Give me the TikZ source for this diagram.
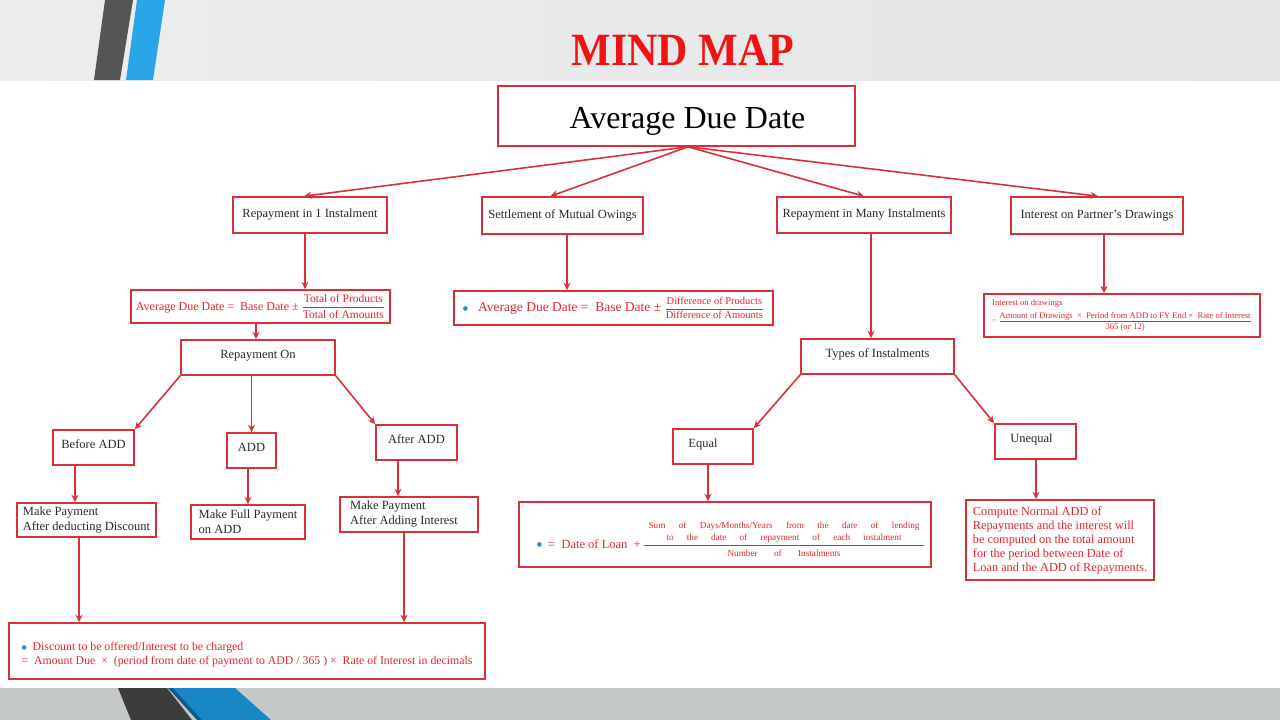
\documentclass[tikz,border=0pt]{standalone}
\usepackage{fontspec}
\setmainfont{Liberation Serif}
\newfontfamily\dejavu{DejaVu Sans}
\usepackage{amsmath}
\usetikzlibrary{arrows.meta,calc}
\definecolor{mred}{HTML}{E0262E}
\definecolor{bred}{HTML}{D9303A}
\definecolor{tred}{HTML}{EE1414}
\definecolor{dotblue}{HTML}{2C8FC0}
\definecolor{ink}{HTML}{2A2A2A}
\definecolor{topgray}{HTML}{E4E5E6}
\definecolor{botgray}{HTML}{C4C8C9}
\definecolor{stripdark}{HTML}{555555}
\definecolor{stripblue}{HTML}{2AA6E8}
\definecolor{bstripdark}{HTML}{3C3C3C}
\definecolor{bstripedge}{HTML}{0F5A8C}
\definecolor{bstripblue}{HTML}{1887C4}
\newcommand\fs[1]{\fontsize{#1}{\dimexpr #1pt*6/5\relax}\selectfont}
\newcommand\bdot{{\color{dotblue}\dejavu\fontsize{6}{7}\selectfont\raisebox{1.5pt}{●}}}
\begin{document}
\begin{tikzpicture}[x=1pt,y=-1pt,
  box/.style={draw=bred,line width=1.6pt,inner sep=0pt,align=center,text=ink,font=\fs{12.5}},
  fbox/.style={box,text=mred},
  upper/.style={text height=8.5pt,text depth=7.5pt},
  arr/.style={draw=bred,line width=1.6pt,-{Stealth[length=7.5pt,width=7pt,inset=2.5pt]}}]
\useasboundingbox (0,0) rectangle (1280,720);
% background
\fill[white] (0,0) rectangle (1280,720);
\shade[left color=topgray!70!white,right color=topgray] (0,0) rectangle (1280,80);
\fill[botgray] (0,688) rectangle (1280,720);
\fill[stripdark] (94,80) -- (120,80) -- (133,0) -- (105,0) -- cycle;
\fill[stripblue] (126,80) -- (153,80) -- (165,0) -- (137,0) -- cycle;
\fill[bstripdark] (118,688) -- (167,688) -- (192,720) -- (131,720) -- cycle;
\fill[bstripedge] (168,688) -- (175,688) -- (204,720) -- (197,720) -- cycle;
\fill[bstripblue] (173,688) -- (235,688) -- (271,720) -- (202,720) -- cycle;
% title
\node[text=tred,font=\fs{42}\bfseries] (title) at (683,50) {\scalebox{1}[1.1]{MIND MAP}};
% root
\node[box,minimum width=357pt,minimum height=60pt,font=\fs{32},text=black,text height=32pt,text depth=7pt] (root) at (676.5,116) {\hspace*{22pt}Average Due Date};
\coordinate (rs) at ($(root.south)+(11.5,0)$);
% level 1
\node[box,minimum width=154pt,minimum height=36pt] (l1a) at (310,215) {Repayment in 1 Instalment};
\node[box,minimum width=161pt,minimum height=37pt] (l1b) at (562.5,215.5) {Settlement of Mutual Owings};
\node[box,minimum width=174pt,minimum height=36pt] (l1c) at (864,215) {Repayment in Many Instalments};
\node[box,minimum width=172pt,minimum height=37pt] (l1d) at (1097,215.5) {Interest on Partner’s Drawings};
\draw[arr] (rs) -- ($(l1a.north)+(-6,0)$);
\draw[arr] (rs) -- ($(l1b.north)+(-12,0)$);
\draw[arr] (rs) -- (l1c.north);
\draw[arr] (rs) -- ($(l1d.north)+(1,0)$);
% formula boxes
\node[fbox,minimum width=259pt,minimum height=33pt,font=\fs{12}] (fA) at (260.5,306.5)
  {Average Due Date =\ \ Base Date ± $\dfrac{\text{\fs{11.5}Total of Products}}{\text{\fs{11.5}Total of Amounts}}$};
\node[fbox,minimum width=319pt,minimum height=34pt,font=\fs{13.5}] (fB) at (613.5,308)
  {\bdot\ \ \ Average Due Date =\ \ Base Date ±\ {\fs{10}$\dfrac{\text{\fs{10.5}Difference of Products}}{\text{\fs{10.5}Difference of Amounts}}$}};
\node[fbox,minimum width=276pt,minimum height=43pt,font=\fs{8.6},align=left] (fD) at (1122,315.5)
  {Interest on drawings\\[4pt]
   {\color{mred!60}=}\,{\fs{9}$\dfrac{\text{\fs{8.6}Amount of Drawings\ \ ×\ \ Period from ADD to FY End ×\ \ Rate of Interest}}{\text{\fs{8.6}365 (\textit{or} 12)}}$}};
\coordinate (a1) at ($(l1a.south)+(-5,0)$);
\draw[arr] (a1) -- (a1 |- fA.north);
\coordinate (b1) at ($(l1b.south)+(4.5,0)$);
\draw[arr] (b1) -- (b1 |- fB.north);
\coordinate (d1) at ($(l1d.south)+(7,0)$);
\draw[arr] (d1) -- (d1 |- fD.north);
% repayment on
\node[box,upper,minimum width=154pt,minimum height=35pt] (rOn) at (258,357.5) {Repayment On};
\coordinate (a2) at ($(fA.south)+(-4.5,0)$);
\draw[arr] (a2) -- (a2 |- rOn.north);
\node[box,upper,minimum width=81pt,minimum height=35pt] (before) at (93.5,447.5) {Before ADD};
\node[box,upper,minimum width=49pt,minimum height=35pt] (addn) at (251.5,450.5) {ADD};
\node[box,upper,minimum width=81pt,minimum height=35pt] (after) at (416.5,442.5) {After ADD};
\draw[arr] (rOn.south west) -- (before.north east);
\draw[arr] (addn.north |- rOn.south) -- (addn.north);
\draw[arr] (rOn.south east) -- (after.north west);
\node[box,minimum width=139pt,minimum height=34pt,align=left] (mp1) at (86.5,520) {Make Payment\\After deducting Discount};
\node[box,minimum width=114pt,minimum height=34pt,align=left] (mp2) at (248,522) {Make Full Payment\\on ADD};
\node[box,minimum width=138pt,minimum height=35pt,align=left] (mp3) at (409,514.5) {Make Payment\\After Adding Interest\hspace*{10pt}};
\coordinate (c1) at ($(before.south)+(-18.5,0)$);
\draw[arr] (c1) -- (c1 |- mp1.north);
\coordinate (c2) at ($(addn.south)+(-3.5,0)$);
\draw[arr] (c2) -- (c2 |- mp2.north);
\coordinate (c3) at ($(after.south)+(-18.5,0)$);
\draw[arr] (c3) -- (c3 |- mp3.north);
\node[fbox,minimum width=476pt,minimum height=56pt,align=left,font=\fs{11.8}] (fE) at (247,651)
  {\rule{0pt}{16pt}\bdot\ \ Discount to be offered/Interest to be charged\\
   =\ \ Amount Due\ \ ×\ \ (period from date of payment to ADD / 365 ) ×\ \ Rate of Interest in decimals};
\coordinate (e1) at ($(mp1.south)+(-7.5,0)$);
\draw[arr] (e1) -- (e1 |- fE.north);
\coordinate (e2) at ($(mp3.south)+(-5,0)$);
\draw[arr] (e2) -- (e2 |- fE.north);
% many instalments
\node[box,upper,minimum width=153pt,minimum height=35pt] (typ) at (877.5,356.5) {Types of Instalments};
\coordinate (t1) at ($(l1c.south)+(7,0)$);
\draw[arr] (t1) -- (t1 |- typ.north);
\node[box,upper,minimum width=80pt,minimum height=35pt] (eq) at (713,446.5) {Equal\hspace*{20pt}};
\node[box,upper,minimum width=81pt,minimum height=35pt] (uneq) at (1035.5,441.5) {Unequal\hspace*{8pt}};
\draw[arr] (typ.south west) -- (eq.north east);
\draw[arr] (typ.south east) -- (uneq.north west);
\node[fbox,minimum width=412pt,minimum height=65pt,font=\fs{12.5}] (fEq) at (725,534.5)
  {\rule{0pt}{36pt}\hspace*{12pt}\bdot\ \ =\ \ Date of Loan\ \ +\,$\dfrac{\makebox[280pt]{\fontsize{9.2}{11}\selectfont\begin{tabular}{@{}c@{}}\makebox[271pt][s]{Sum of Days/Months/Years from the date of lending}\\[0.5pt]\makebox[235pt][s]{to the date of repayment of each instalment}\end{tabular}}}{\text{\fs{9.2}\makebox[113pt][s]{Number of Instalments}}}$};
\node[fbox,minimum width=188pt,minimum height=80pt,align=left,font=\fontsize{12.3}{14}\selectfont] (uText) at (1060,540)
  {Compute Normal ADD of\\Repayments and the interest will\\be computed on the total amount\\for the period between Date of\\Loan and the ADD of Repayments.};
\coordinate (q1) at ($(eq.south)+(-5,0)$);
\draw[arr] (q1) -- (q1 |- fEq.north);
\coordinate (q2) at ($(uneq.south)+(0.5,0)$);
\draw[arr] (q2) -- (q2 |- uText.north);
\end{tikzpicture}
\end{document}
